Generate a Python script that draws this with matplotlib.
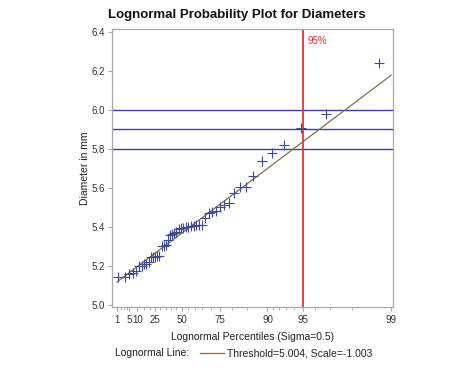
import matplotlib
matplotlib.use("Agg")
import matplotlib.pyplot as plt
import matplotlib.transforms as mtransforms
from statistics import NormalDist
import math

plt.rcParams['font.family'] = ['Liberation Sans', 'DejaVu Sans']

# Data (Diameter in mm)
diameters = [5.501, 5.251, 5.404, 5.366, 5.445, 5.576, 5.607,
             5.200, 5.977, 5.177, 5.332, 5.399, 5.661, 5.512,
             5.252, 5.404, 5.739, 5.525, 5.160, 5.410, 5.823,
             5.376, 5.202, 5.470, 5.410, 5.394, 5.146, 5.244,
             5.309, 5.480, 5.388, 5.399, 5.360, 5.368, 5.394,
             5.248, 5.409, 5.304, 6.239, 5.781, 5.247, 5.907,
             5.208, 5.143, 5.304, 5.603, 5.164, 5.209, 5.475,
             5.223]
sigma = 0.5
threshold = 5.004
scale = -1.003
ref_lines_y = [5.8, 5.9, 6.0]
ref_pct = 95
major_pcts = [1, 5, 10, 25, 50, 75, 90, 95, 99]
minor_pcts = [2, 3, 4, 15, 20, 30, 35, 40, 45, 55, 60, 65, 70, 80, 85,
              91, 92, 93, 94, 96, 97, 98]
yticks = [5.0, 5.2, 5.4, 5.6, 5.8, 6.0, 6.2, 6.4]

nd = NormalDist()
def pos(p):
    return math.exp(sigma * nd.inv_cdf(p / 100.0))

fig = plt.figure(figsize=(4.74, 3.70), dpi=100)
ax = fig.add_axes([0.2363, 0.1703, 0.5928, 0.7514])

# points with Blom plotting positions
ys = sorted(diameters)
n = len(ys)
xs = [math.exp(sigma * nd.inv_cdf((i + 1 - 0.375) / (n + 0.25))) for i in range(n)]

line_col = '#8B6A45'
ref_blue = '#3A3AC4'
red = '#E8332F'

for y in ref_lines_y:
    ax.axhline(y, color=ref_blue, lw=1.0, zorder=1)
ax.axvline(pos(ref_pct), color=red, lw=1.3, zorder=1)
trans = mtransforms.blended_transform_factory(ax.transData, ax.transAxes)
ax.text(pos(ref_pct) + 0.04, 0.975, f"{ref_pct}%", color=red, fontsize=7,
        va='top', ha='left', transform=trans)

x0, x1 = pos(1), pos(99)
ax.plot([x0, x1], [threshold + math.exp(scale) * x0, threshold + math.exp(scale) * x1],
        color=line_col, lw=0.9, zorder=2)
ax.plot(xs, ys, linestyle='none', marker='+', markersize=7, mew=0.8,
        color='#3D4A98', zorder=3)

ax.set_xlim(0.2598, 3.221)
ax.set_ylim(4.99, 6.4154)
ax.set_xticks([pos(p) for p in major_pcts])
ax.set_xticklabels([str(p) for p in major_pcts])
ax.set_xticks([pos(p) for p in minor_pcts], minor=True)
ax.set_yticks(yticks)
ax.set_yticklabels([f"{v:.1f}" for v in yticks])

frame_col = '#A8A8A8'
for s in ax.spines.values():
    s.set_color(frame_col)
    s.set_linewidth(0.9)
ax.tick_params(axis='both', which='major', direction='out', length=3, width=0.8,
               color=frame_col, labelsize=7, labelcolor='#333333', pad=2)
ax.tick_params(axis='x', which='major', pad=3)
ax.tick_params(axis='x', which='minor', direction='out', length=2, width=0.6,
               color=frame_col)

ax.set_xlabel("Lognormal Percentiles (Sigma=0.5)", fontsize=7.5, color='#222222', labelpad=5)
ax.set_ylabel("Diameter in mm", fontsize=7.5, color='#222222', labelpad=1)
fig.text(0.5, 0.975, "Lognormal Probability Plot for Diameters", ha='center', va='top',
         fontsize=9.5, fontweight='bold', color='#111111')

# legend row
fig.text(115 / 474, 1 - 353 / 370, "Lognormal Line:", fontsize=7.5, va='center',
         ha='left', color='#222222')
fig.add_artist(plt.Line2D([200 / 474, 224 / 474], [1 - 353 / 370, 1 - 353 / 370],
                          color=line_col, lw=0.9))
fig.text(227 / 474, 1 - 353 / 370, f"Threshold={threshold}, Scale={scale}", fontsize=7.5,
         va='center', ha='left', color='#222222')

fig.savefig("out.png", dpi=100)
